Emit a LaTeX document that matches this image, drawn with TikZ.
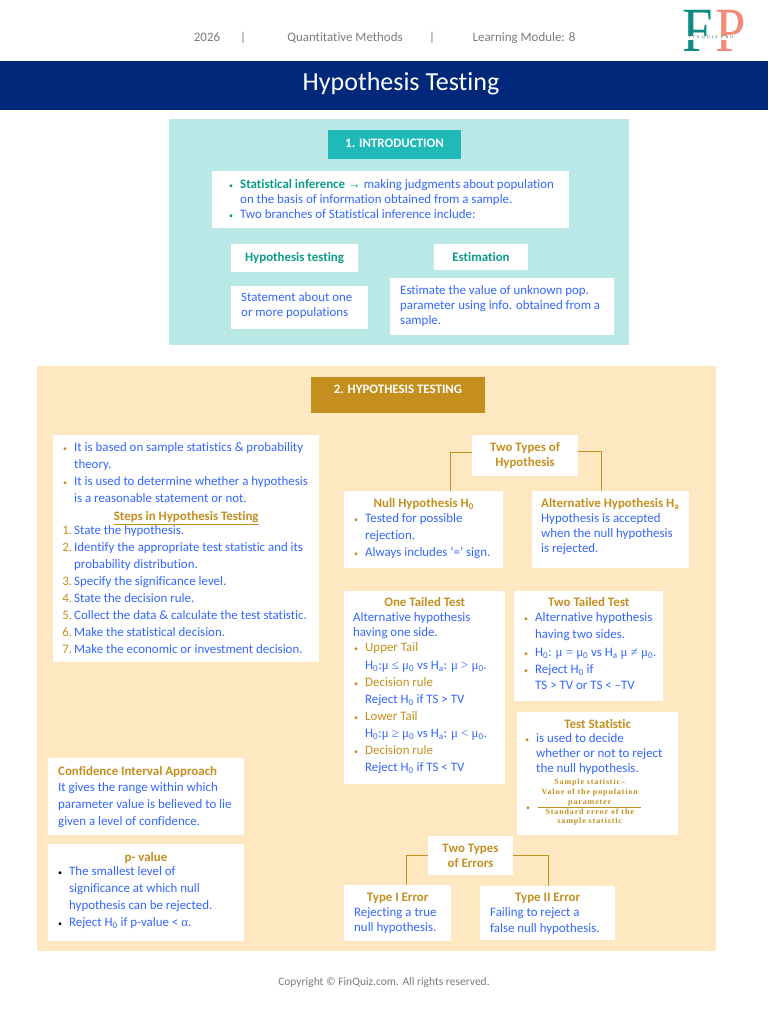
\documentclass[tikz,border=0pt]{standalone}
\usepackage{fontspec}
\setmainfont[Ligatures=NoCommon,Numbers=Lining]{Carlito}
\newfontfamily\symf{Liberation Serif}
\newfontfamily\fracf[LetterSpace=11]{Liberation Serif}
\newfontfamily\tinyf[LetterSpace=55]{Liberation Serif}
\usetikzlibrary{positioning}

\definecolor{navy}{HTML}{00287A}
\definecolor{tealpanel}{HTML}{BAE8E7}
\definecolor{tealhead}{HTML}{1FBAB8}
\definecolor{tealtext}{HTML}{0B9C8C}
\definecolor{creampanel}{HTML}{FDE8C1}
\definecolor{gold}{HTML}{C48F1E}
\definecolor{bluetext}{HTML}{3366FF}
\definecolor{graytext}{HTML}{7A7A7A}
\definecolor{salmon}{HTML}{F28B78}
\definecolor{logoteal}{HTML}{0F8A84}

\newcommand{\bodyfont}{\fontsize{12.9}{15}\selectfont}
% name, x0, y0, x1, y1, left pad, top pad, lines
\newcommand{\card}[8]{%
  \pgfmathsetmacro\cardw{#4-#2}\pgfmathsetmacro\cardh{#5-#3}%
  \node[cardbox, minimum width=\cardw pt, minimum height=\cardh pt] (#1) at (#2,#3)
    {\parbox[t][\cardh pt][t]{\cardw pt}{\raggedright\leftskip=#6pt\bodyfont
      \vspace*{#7pt}\rule{0pt}{9pt}#8}};}
\newcommand{\bul}[1][gold]{\leavevmode\llap{\textcolor{#1}{\fontsize{8}{8}\selectfont\textbullet}\hspace{7pt}}}
\newcommand{\num}[1]{\leavevmode\llap{\textcolor{gold}{#1.}\hspace{2pt}}}
\newcommand{\ctitle}[1]{\hspace*{-\leftskip}\makebox[\hsize][c]{\textcolor{gold}{\bfseries #1}}}
\newcommand{\gt}[1]{\textcolor{gold}{#1}}
\newcommand{\Hz}{H\textsubscript{0}}
\newcommand{\Ha}{H\textsubscript{a}}
\newcommand{\mz}{{\symf μ}\textsubscript{0}}
\newcommand{\sy}[1]{{\symf #1}}

\begin{document}
\begin{tikzpicture}[x=1pt,y=-1pt]
    \tikzstyle{cardbox}=[fill=white, inner sep=0pt, anchor=north west, text=bluetext]
    \tikzstyle{headbox}=[fill=white, inner sep=0pt, font=\bodyfont\bfseries, align=center]
    \tikzstyle{hdrtext}=[inner sep=0pt, text=graytext, text height=9pt, text depth=3pt, font=\fontsize{12.9}{15}\selectfont]
    \tikzstyle{link}=[gold, line width=0.9pt]

    \useasboundingbox (0,0) rectangle (768,1024);

    % page header
    \node[hdrtext] (year) at (207,39) {2026};
    \node[hdrtext] (sepa) at (243,39) {|};
    \node[hdrtext] (subject) at (345,39) {Quantitative Methods};
    \node[hdrtext] (sepb) at (432,39) {|};
    \node[hdrtext] (module) at (524,39) {Learning Module: 8};
    \node[inner sep=0pt, text=logoteal, font=\fontsize{63}{63}\selectfont\symf] (logof) at (698,31) {\scalebox{.87}[1]{F}};
    \node[inner sep=0pt, text=salmon, font=\fontsize{63}{63}\selectfont\symf] (logop) at (731,31) {\scalebox{.87}[1]{P}};
    \node[inner sep=0.5pt, fill=white, text=black!70, font=\fontsize{4}{4}\selectfont\tinyf] (logot) at (711,38) {FINQUIZ PRO};
    \node[fill=navy, minimum width=768pt, minimum height=49pt, inner sep=0pt, text=white,
          font=\fontsize{26}{28}\selectfont] (banner) at (384,85.5) {\hspace*{34pt}\raisebox{8pt}{Hypothesis Testing}};

    % introduction
    \node[fill=tealpanel, anchor=north west, minimum width=460pt, minimum height=226pt, inner sep=0pt] (intro) at (169,119) {};
    \node[fill=tealhead, minimum width=133pt, minimum height=29pt, inner sep=0pt, text=white,
          font=\bodyfont\bfseries] (introhead) at (394.5,144.5) {\raisebox{2pt}{1. INTRODUCTION}};
    \card{infer}{212}{171}{569}{228}{28}{8.5}{%
      \bul[tealtext]\textcolor{tealtext}{\bfseries Statistical inference} \textcolor{tealtext}{\sy{→}} making judgments about population\\
      on the basis of information obtained from a sample.\\
      \bul[tealtext]Two branches of Statistical inference include:}
    \node[headbox, text=tealtext, minimum width=127pt, minimum height=28pt] (hyptest) at (294.5,258) {\raisebox{3pt}{Hypothesis testing}};
    \node[headbox, text=tealtext, minimum width=94pt, minimum height=26pt] (estim) at (481,257) {Estimation};
    \card{stmt}{231}{286}{368}{329}{10}{6}{%
      Statement about one\\
      or more populations}
    \card{estbody}{390}{278}{614}{335}{10}{7}{%
      Estimate the value of unknown pop.\\
      parameter using info. obtained from a\\
      sample.}

    % hypothesis testing
    \node[fill=creampanel, anchor=north west, minimum width=679pt, minimum height=585pt, inner sep=0pt] (hypo) at (37,366) {};
    \node[fill=gold, minimum width=174pt, minimum height=36pt, inner sep=0pt, text=white,
          font=\bodyfont\bfseries] (hypohead) at (398,395) {\raisebox{12pt}{2. HYPOTHESIS TESTING}};

    \card{steps}{53}{435}{319}{662}{21}{7}{%
      \bul It is based on sample statistics \& probability\\[2pt]
      theory.\\[2pt]
      \bul It is used to determine whether a hypothesis\\[2pt]
      is a reasonable statement or not.\\[3pt]
      \ctitle{\underline{Steps in Hypothesis Testing}}\\[-1pt]
      \num{1}State the hypothesis.\\[2pt]
      \num{2}Identify the appropriate test statistic and its\\[2pt]
      probability distribution.\\[2pt]
      \num{3}Specify the significance level.\\[2pt]
      \num{4}State the decision rule.\\[2pt]
      \num{5}Collect the data \& calculate the test statistic.\\[2pt]
      \num{6}Make the statistical decision.\\[2pt]
      \num{7}Make the economic or investment decision.}

    \node[headbox, text=gold, minimum width=106pt, minimum height=41pt] (hyptypes) at (525,455.5)
      {Two Types of\\Hypothesis};
    \card{nullh}{344}{491}{503}{568}{21}{7}{%
      \ctitle{Null Hypothesis \Hz}\\
      \bul Tested for possible\\[2pt]
      rejection.\\[2pt]
      \bul Always includes ‘=’ sign.}
    \card{alth}{532}{491}{689}{568}{9}{7}{%
      \gt{\bfseries Alternative Hypothesis \Ha}\\
      Hypothesis is accepted\\
      when the null hypothesis\\
      is rejected.}
    \coordinate (hypl) at (450,491);
    \coordinate (hypr) at (601,491);
    \draw[link] ([yshift=3.5pt]hyptypes.west) -| (hypl);
    \draw[link] ([yshift=4.5pt]hyptypes.east) -| (hypr);

    \card{onetail}{344}{591}{505}{784}{21}{6}{%
      \ctitle{One Tailed Test}\\
      \hspace*{-12pt}Alternative hypothesis\\
      \hspace*{-12pt}having one side.\\
      \bul\gt{Upper Tail}\\[3pt]
      \Hz:\sy{μ ≤ }\mz\ vs \Ha: \sy{μ > }\mz.\\[2pt]
      \bul\gt{Decision rule}\\[2pt]
      Reject \Hz\ if TS > TV\\[2pt]
      \bul\gt{Lower Tail}\\[2pt]
      \Hz:\sy{μ ≥ }\mz\ vs \Ha: \sy{μ < }\mz.\\[2pt]
      \bul\gt{Decision rule}\\[2pt]
      Reject \Hz\ if TS < TV}
    \card{twotail}{514}{591}{663}{701}{21}{6}{%
      \ctitle{Two Tailed Test}\\
      \bul Alternative hypothesis\\[2pt]
      having two sides.\\[3pt]
      \bul\Hz: \sy{μ = }\mz\ vs \Ha\ \sy{μ ≠ }\mz.\\[2pt]
      \bul Reject \Hz\ if\\[1pt]
      TS > TV or TS < –TV}
    \card{tstat}{517}{712}{678}{835}{19}{7}{%
      \ctitle{Test Statistic}\\[-1pt]
      \bul is used to decide\\
      whether or not to reject\\
      the null hypothesis.\\[4pt]
      \leavevmode\llap{\raisebox{-5pt}{\textcolor{gold}{\fontsize{8}{8}\selectfont\textbullet}}\hspace{6pt}}%
      \hspace*{2pt}$\vcenter{\hsize=103pt\color{gold}\fracf\bfseries\fontsize{8}{9.6}\selectfont\centering
        Sample statistic–\\Value of the population\\parameter\par
        \vskip1pt\hrule height .8pt\vskip1pt
        Standard error of the\\sample statistic\par}$}

    \node[headbox, text=gold, minimum width=85pt, minimum height=39pt] (errtypes) at (470.5,855.5)
      {Two Types\\of Errors};
    \card{typei}{344}{885}{451}{941}{10}{7}{%
      \ctitle{Type I Error}\\
      Rejecting a true\\
      null hypothesis.}
    \card{typeii}{480}{886}{615}{940}{10}{6}{%
      \ctitle{Type II Error}\\
      Failing to reject a\\[1pt]
      false null hypothesis.}
    \coordinate (errl) at (406.5,885);
    \coordinate (errr) at (548,886);
    \draw[link] (errtypes.west) -| (errl);
    \draw[link] (errtypes.east) -| (errr);

    \card{confint}{47.5}{758}{244}{835}{10.5}{8}{%
      \gt{\bfseries Confidence Interval Approach}\\[1pt]
      It gives the range within which\\[2pt]
      parameter value is believed to lie\\[2pt]
      given a level of confidence.}
    \card{pval}{47.5}{844}{244}{941}{21.5}{8}{%
      \ctitle{p- value}\\[-1pt]
      \bul[black]The smallest level of\\[2pt]
      significance at which null\\[2pt]
      hypothesis can be rejected.\\[2pt]
      \bul[black]Reject \Hz\ if p-value < \sy{α}.}

    \node[hdrtext, font=\fontsize{11.5}{13}\selectfont] (copy) at (384,982) {Copyright © FinQuiz.com. All rights reserved.};
\end{tikzpicture}
\end{document}
